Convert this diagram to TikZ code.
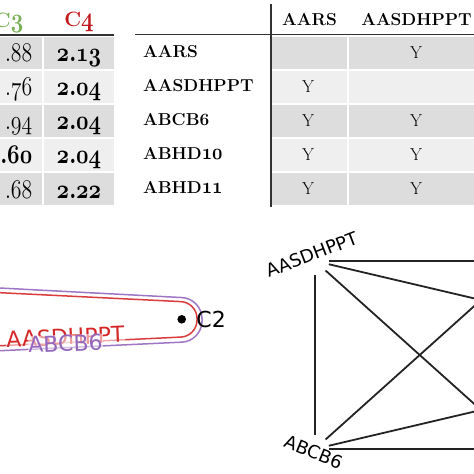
\documentclass[tikz,border=0pt]{standalone}
\usepackage{fontspec}
\usepackage{tikz}
\usetikzlibrary{positioning}
\newfontfamily\grafofont{DejaVu Sans}
\definecolor{grisoscuro}{RGB}{221,221,221}
\definecolor{grisclaro}{RGB}{239,239,239}
\definecolor{verdec}{RGB}{122,176,86}
\definecolor{rojoc}{RGB}{192,24,28}
\definecolor{rojocasco}{RGB}{214,39,40}
\definecolor{moradocasco}{RGB}{148,103,189}
\definecolor{reglagris}{RGB}{50,50,50}
\definecolor{aristagris}{RGB}{35,35,35}
% cifras de estilo antiguo (en OML el punto va en la posicion de ':')
\newcommand{\cifra}[1]{\scalebox{1.05}[1.3]{\usefont{OML}{cmm}{m}{it}#1}}
\newcommand{\cifrab}[1]{\scalebox{1.05}[1.3]{\usefont{OML}{cmm}{b}{it}#1}}
\begin{document}
\begin{tikzpicture}[x=1pt, y=-1pt,
  cabecera/.style={font=\fontsize{20.74}{24}\selectfont\bfseries, inner sep=0pt},
  cifras/.style={font=\fontsize{20.74}{24}\selectfont, inner sep=0pt},
  rotulo/.style={font=\fontsize{17.28}{20}\selectfont\bfseries, inner sep=0pt},
  marca/.style={font=\fontsize{17.28}{20}\selectfont, inner sep=0pt},
  regla/.style={draw=reglagris, line width=1.6pt},
  vertice/.style={circle, minimum size=28pt, inner sep=0pt},
  arista/.style={draw=aristagris, line width=1.8pt},
  etiqueta/.style={font=\grafofont\fontsize{18}{20}\selectfont, inner sep=0pt},
  punto/.style={circle, fill=black, minimum size=8.6pt, inner sep=0pt},
  textocasco/.style={font=\grafofont\fontsize{22}{24}\selectfont, fill=white,
    fill opacity=0.55, text opacity=1, inner sep=0.5pt},
  casco/.style={line width=1.5pt, draw opacity=0.9}
]
\useasboundingbox (0,0) rectangle (474,474);
\clip (0,0) rectangle (474,474);

% celdas de las dos tablas
\foreach \i/\tono in {1/grisoscuro,2/grisclaro,3/grisoscuro,4/grisclaro,5/grisoscuro}{
  \pgfmathsetmacro{\ytop}{36.8+34.15*(\i-1)}
  \fill[\tono] (-2,\ytop) rectangle (42.3,\ytop+32);
  \fill[\tono] (44.3,\ytop) rectangle (114,\ytop+32);
  \fill[\tono] (272,\ytop) rectangle (347.3,\ytop+32);
  \fill[\tono] (349.3,\ytop) rectangle (476,\ytop+32);
}

% tabla izquierda
\node[cabecera, text=verdec, anchor=base east] (c3) at (23.5,27) {C\cifrab{3}};
\node[cabecera, text=rojoc, anchor=base] (c4) at (79,26.5) {C\cifrab{4}};
\draw[regla] (-2,35) -- (114,35);
\node[cifras, anchor=base east] (n11) at (32.5,61.5) {\cifra{:88}};
\node[cifras, anchor=base east] (n21) at (32.5,95.65) {\cifra{:76}};
\node[cifras, anchor=base east] (n31) at (32.5,129.8) {\cifra{:94}};
\node[cifras, anchor=base east] (n41) at (32.5,163.95) {\cifrab{:60}};
\node[cifras, anchor=base east] (n51) at (32.5,198.1) {\cifra{:68}};
\node[cifras, anchor=base] (n12) at (79,61.5) {\cifrab{2:13}};
\node[cifras, anchor=base] (n22) at (79,95.65) {\cifrab{2:04}};
\node[cifras, anchor=base] (n32) at (79,129.8) {\cifrab{2:04}};
\node[cifras, anchor=base] (n42) at (79,163.95) {\cifrab{2:04}};
\node[cifras, anchor=base] (n52) at (79,198.1) {\cifrab{2:22}};

% tabla derecha
\draw[regla] (135,34.5) -- (476,34.5);
\draw[regla] (270.7,4) -- (270.7,207);
\node[rotulo, anchor=base] (hA) at (309.5,25) {AARS};
\node[rotulo, anchor=base] (hB) at (416.5,25) {AASDHPPT};
\node[rotulo, anchor=base west] (f1) at (143,57.3) {AARS};
\node[rotulo, anchor=base west] (f2) at (143,91.45) {AASDHPPT};
\node[rotulo, anchor=base west] (f3) at (143,125.6) {ABCB6};
\node[rotulo, anchor=base west] (f4) at (143,159.75) {ABHD\cifrab{10}};
\node[rotulo, anchor=base west] (f5) at (143,193.9) {ABHD\cifrab{11}};
\node[marca, anchor=base] (y1B) at (416,58) {Y};
\node[marca, anchor=base] (y2A) at (308,92.15) {Y};
\node[marca, anchor=base] (y3A) at (308,126.3) {Y};
\node[marca, anchor=base] (y3B) at (416,126.3) {Y};
\node[marca, anchor=base] (y4A) at (308,160.45) {Y};
\node[marca, anchor=base] (y4B) at (416,160.45) {Y};
\node[marca, anchor=base] (y5A) at (308,194.6) {Y};
\node[marca, anchor=base] (y5B) at (416,194.6) {Y};

% cascos alrededor de C2
\draw[casco, rojocasco, rounded corners=16pt]
  (-10,292.2) -- (197,302.4) -- (197,336.3) -- (-10,346.2);
\draw[casco, moradocasco, rounded corners=20pt]
  (-10,287.5) -- (202,298.6) -- (202,341.2) -- (-10,351.2);
\node[punto] (c2) at (181.7,319.3) {};
\node[font=\grafofont\fontsize{22}{24}\selectfont, inner sep=0pt,
  right=10pt of c2] (tc2) {C2};
\node[textocasco, text=rojocasco, rotate=2.5, anchor=base west] (trojo)
  at (6,347.5) {AASDHPPT};
\node[textocasco, text=moradocasco, rotate=2, anchor=base west] (tmorado)
  at (28,353) {ABCB6};

% grafo
\node[vertice] (aasd) at (315,261) {};
\node[vertice] (abcb) at (315,449) {};
\coordinate (r1) at (500,261);
\coordinate (r2) at (481,300);
\coordinate (r3) at (481,410);
\coordinate (r4) at (500,449);
\draw[arista] (aasd) -- (abcb);
\draw[arista] (aasd) -- (r1);
\draw[arista] (aasd) -- (r2);
\draw[arista] (aasd) -- (r3);
\draw[arista] (abcb) -- (r2);
\draw[arista] (abcb) -- (r3);
\draw[arista] (abcb) -- (r4);
\node[etiqueta, rotate=21, anchor=base] (laasd) at (314,260.5) {AASDHPPT};
\node[etiqueta, rotate=-22, anchor=base] (labcb) at (311,458) {ABCB6};
\end{tikzpicture}
\end{document}
